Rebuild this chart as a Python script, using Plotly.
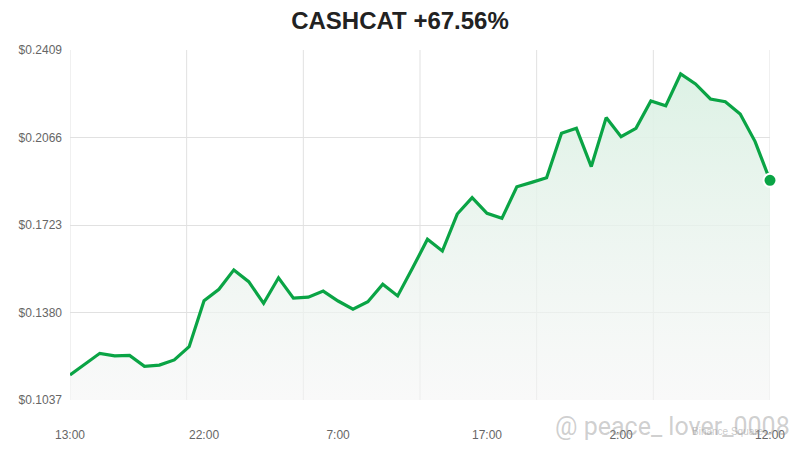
import plotly.graph_objects as go

# hours since start (hourly samples)
hours = list(range(48))
prices = [0.1135, 0.1178, 0.1220, 0.1210, 0.1212, 0.1169, 0.1174, 0.1194, 0.1246, 0.1426,
          0.1471, 0.1547, 0.1501, 0.1416, 0.1516, 0.1436, 0.1440, 0.1464, 0.1425, 0.1393,
          0.1422, 0.1491, 0.1445, 0.1554, 0.1667, 0.1621, 0.1766, 0.1830, 0.1769, 0.1749,
          0.1873, 0.1890, 0.1908, 0.2083, 0.2102, 0.1952, 0.2144, 0.2069, 0.2102, 0.2209,
          0.2190, 0.2315, 0.2276, 0.2217, 0.2206, 0.2158, 0.2050, 0.1898]

x_tick_hours = [0, 9, 18, 28, 37, 47]
x_tick_labels = ["13:00", "22:00", "7:00", "17:00", "2:00", "12:00"]
y_tick_vals = [0.1037, 0.1380, 0.1723, 0.2066, 0.2409]
y_tick_labels = ["$0.1037", "$0.1380", "$0.1723", "$0.2066", "$0.2409"]
title_text = "CASHCAT +67.56%"

GREEN = "#0aa445"
GRID = "#e1e1e1"

W, H = 792, 442  # page body has an 8px margin

fig = go.Figure()
fig.add_trace(go.Scatter(
    x=hours, y=prices, mode="lines",
    line=dict(color=GREEN, width=3.2),
    fill="tozeroy",
    fillgradient=dict(type="vertical",
                      colorscale=[[0, "rgba(245,245,245,0.6)"], [1, "rgba(218,241,227,1)"]],
                      start=y_tick_vals[0], stop=y_tick_vals[-1]),
    hoverinfo="skip", showlegend=False,
))
fig.add_trace(go.Scatter(
    x=[hours[-1]], y=[prices[-1]], mode="markers",
    marker=dict(color=GREEN, size=13, line=dict(color="white", width=2)),
    cliponaxis=False, showlegend=False, hoverinfo="skip",
))

# vertical grid lines at sixths of the time span
n_div = 6
span = hours[-1] - hours[0]
for k in range(n_div + 1):
    fig.add_shape(type="line", xref="x", yref="paper",
                  x0=hours[0] + span * k / n_div, x1=hours[0] + span * k / n_div,
                  y0=0, y1=1, line=dict(color=GRID, width=1), layer="below")

fig.update_layout(
    width=W, height=H,
    margin=dict(l=62, r=30, t=42, b=50, autoexpand=False),
    paper_bgcolor="white", plot_bgcolor="white",
    font=dict(family="Liberation Sans, Arial, sans-serif", color="#666666", size=12),
    title=dict(text=title_text, x=392 / W, xanchor="center", y=1 - 4 / H, yanchor="top",
               font=dict(size=24, color="#222222", family="Liberation Sans, Arial, sans-serif",
                         weight="bold")),
    xaxis=dict(range=[hours[0], hours[-1]], tickvals=x_tick_hours, ticktext=x_tick_labels,
               showgrid=False, zeroline=False, showline=False, ticks="", automargin=False,
               ticklabelstandoff=26, tickfont=dict(size=12, color="#666666")),
    yaxis=dict(range=[y_tick_vals[0], y_tick_vals[-1]], tickvals=y_tick_vals,
               ticktext=y_tick_labels, showgrid=True, gridcolor=GRID, gridwidth=1,
               zeroline=False, showline=False, ticks="", ticklabelstandoff=7, automargin=False,
               tickfont=dict(size=12, color="#666666")),
)

fig.add_annotation(text="@ peace_ lover_0008", xref="paper", yref="paper",
                   x=1 + 22 / 700, y=-26 / 350, xanchor="right", yanchor="middle",
                   showarrow=False,
                   font=dict(size=25, color="rgba(140,140,140,0.42)",
                             family="Roboto, Liberation Sans, Arial, sans-serif"))
fig.add_annotation(text="Binance Square", xref="paper", yref="paper",
                   x=0.94, y=-0.09, xanchor="center", yanchor="middle", showarrow=False,
                   font=dict(size=10, color="rgba(150,150,150,0.5)"))

fig.write_html("out.html")
